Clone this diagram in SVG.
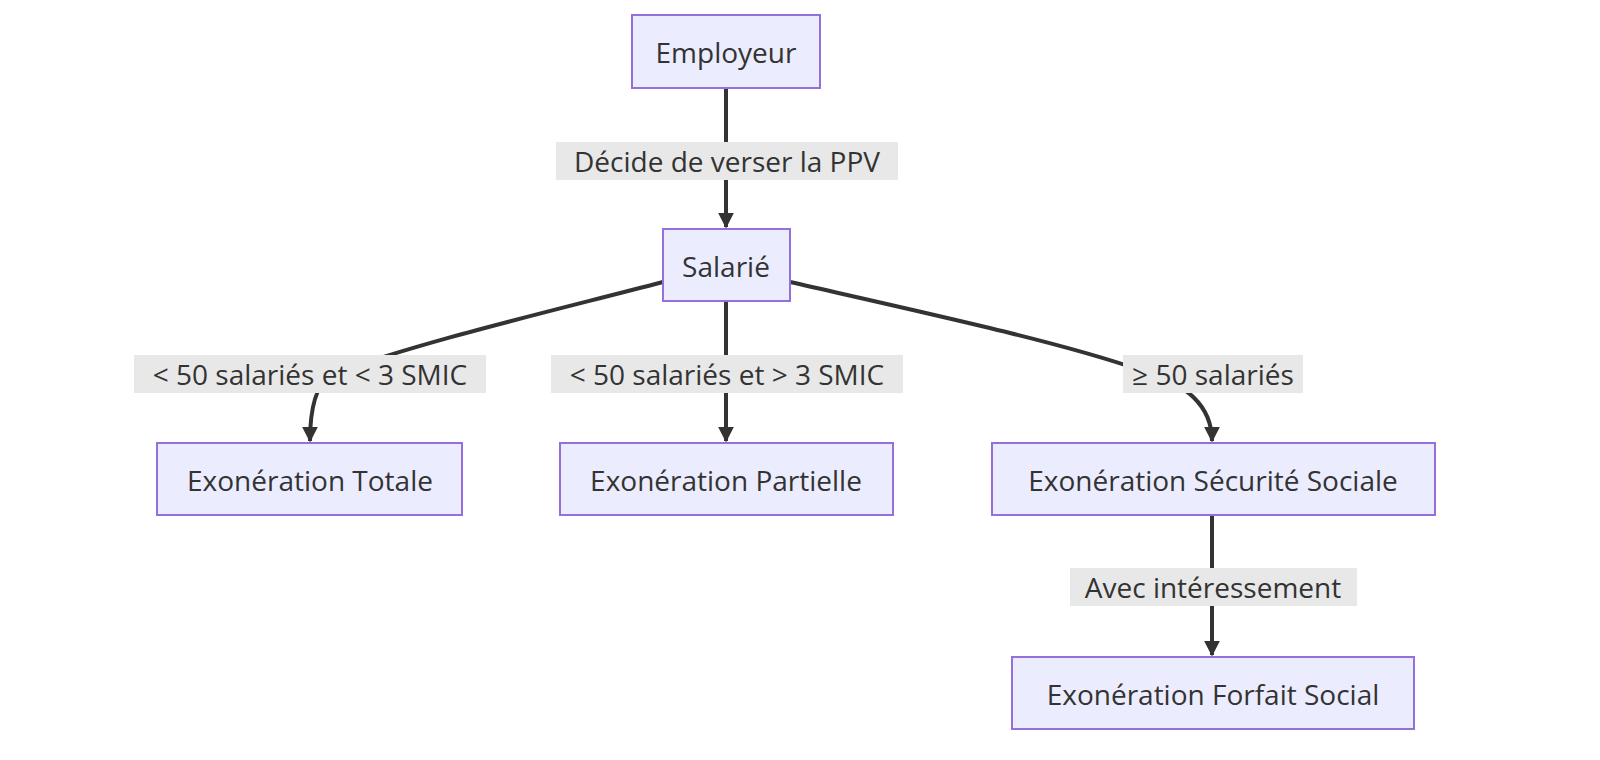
<svg xmlns="http://www.w3.org/2000/svg" width="1600" height="760" viewBox="0 0 1600 760">
<style>
.n{fill:#ECECFF;stroke:#9370DB;stroke-width:2}
.t{font-family:"Open Sans","Liberation Sans",sans-serif;font-size:28px;fill:#333;text-anchor:middle;dominant-baseline:central}
.e{fill:none;stroke:#333;stroke-width:4}
.lb{fill:#e8e8e8}
</style>
<defs><marker id="a" viewBox="0 0 10 10" refX="9" refY="5" markerWidth="4" markerHeight="4" orient="auto"><path d="M0,0L10,5L0,10z" fill="#333"/></marker></defs>
<rect width="1600" height="760" fill="#fff"/>
<g id="connectors">
<path class="e" d="M726,88V227" marker-end="url(#a)"/>
<path class="e" d="M663,282C540,314 420,342 330,375Q310,390 310,441" marker-end="url(#a)"/>
<path class="e" d="M726,301V441" marker-end="url(#a)"/>
<path class="e" d="M790,282C930,314 1060,342 1140,370Q1212,390 1212,441" marker-end="url(#a)"/>
<path class="e" d="M1212,515V655" marker-end="url(#a)"/>
<rect class="lb" x="556" y="142" width="342" height="38"/><text class="t" x="727" y="161">Décide de verser la PPV</text>
<rect class="lb" x="134" y="355" width="352" height="38"/><text class="t" x="310" y="374">&lt; 50 salariés et &lt; 3 SMIC</text>
<rect class="lb" x="551" y="355" width="352" height="38"/><text class="t" x="727" y="374">&lt; 50 salariés et &gt; 3 SMIC</text>
<rect class="lb" x="1123" y="355" width="180" height="38"/><text class="t" x="1213" y="374">≥ 50 salariés</text>
<rect class="lb" x="1070" y="568" width="287" height="38"/><text class="t" x="1213" y="587">Avec intéressement</text>
</g>
<g id="employeur"><rect class="n" x="632" y="15" width="188" height="73"/><text class="t" x="726" y="52">Employeur</text></g>
<g id="salarie"><rect class="n" x="663" y="229" width="127" height="72"/><text class="t" x="726" y="266">Salarié</text></g>
<g id="totale"><rect class="n" x="157" y="443" width="305" height="72"/><text class="t" x="310" y="480">Exonération Totale</text></g>
<g id="partielle"><rect class="n" x="560" y="443" width="333" height="72"/><text class="t" x="726" y="480">Exonération Partielle</text></g>
<g id="secu"><rect class="n" x="992" y="443" width="443" height="72"/><text class="t" x="1213" y="480">Exonération Sécurité Sociale</text></g>
<g id="forfait"><rect class="n" x="1012" y="657" width="402" height="72"/><text class="t" x="1213" y="694">Exonération Forfait Social</text></g>
</svg>
